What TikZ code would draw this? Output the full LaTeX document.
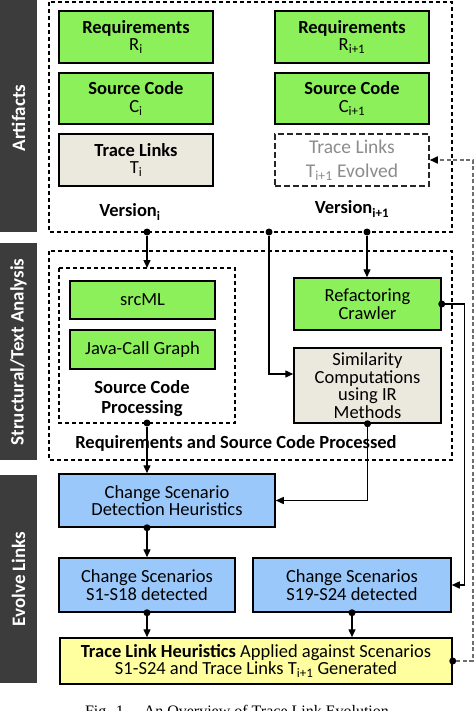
\documentclass[tikz,border=0pt]{standalone}
\usepackage{fontspec}
\setmainfont{Carlito}
\newfontfamily\capfont{Liberation Serif}
\usetikzlibrary{arrows.meta}
\definecolor{grn}{RGB}{140,240,90}
\definecolor{blu}{RGB}{155,200,250}
\definecolor{yel}{RGB}{255,255,160}
\definecolor{bge}{RGB}{235,232,222}
\definecolor{band}{RGB}{60,60,60}
\definecolor{fbk}{RGB}{110,110,110}
\begin{document}
\begin{tikzpicture}[x=1pt,y=-1pt,
  box/.style={draw=black, line width=1.5pt, inner sep=0pt, align=center,
    font=\fontsize{18.5}{17.5}\selectfont},
  gbox/.style={box, fill=grn},
  bbox/.style={box, fill=blu},
  ebox/.style={box, fill=bge},
  grp/.style={draw=black, line width=1.4pt, dash pattern=on 4pt off 3pt},
  bandtext/.style={text=white, rotate=90, font=\fontsize{19}{20}\selectfont\bfseries},
  lbl/.style={font=\fontsize{18.5}{20}\selectfont\bfseries, align=center},
  arr/.style={line width=1.4pt, -{Triangle[length=8pt,width=7pt]}},
  dot/.style={circle, fill=black, inner sep=0pt, minimum size=7pt},
]
\useasboundingbox (0,0) rectangle (474,711);
\clip (0,0) rectangle (474,711);
\fill[white] (0,0) rectangle (474,711);

% side bands
\fill[band] (0,0) rectangle (37,232);
\fill[band] (0,243) rectangle (37,460);
\fill[band] (0,475) rectangle (37,683);
\node[bandtext] (bA) at (18.5,118) {Artifacts};
\node[bandtext] (bS) at (18.5,352) {Structural/Text Analysis};
\node[bandtext] (bE) at (18.5,579) {Evolve Links};

% group boxes
\draw[grp] (49,2) rectangle (452,232);
\draw[grp] (49,251) rectangle (452,460);
\draw[grp] (59,268) rectangle (235,423);

% artifacts
\node[gbox, minimum width=154pt, minimum height=52pt] (ri) at (136,37)
  {\textbf{Requirements}\\R\textsubscript{i}};
\node[gbox, minimum width=154pt, minimum height=51pt] (ci) at (136,98.5)
  {\textbf{Source Code}\\C\textsubscript{i}};
\node[ebox, minimum width=154pt, minimum height=52pt] (ti) at (136,160)
  {\textbf{Trace Links}\\T\textsubscript{i}};
\node[gbox, minimum width=154pt, minimum height=52pt] (ri1) at (352,37)
  {\textbf{Requirements}\\R\textsubscript{i+1}};
\node[gbox, minimum width=154pt, minimum height=51pt] (ci1) at (352,98.5)
  {\textbf{Source Code}\\C\textsubscript{i+1}};
\node[box, draw=black!85, dash pattern=on 6pt off 3pt, text=black!45,
  minimum width=154pt, minimum height=52pt,
  font=\fontsize{19.5}{24}\selectfont] (ti1) at (352,160)
  {Trace Links\\T\textsubscript{i+1} Evolved};
\node[lbl, anchor=base] (v1) at (130,217) {Version\textsubscript{i}};
\node[lbl, anchor=base] (v2) at (352,214) {Version\textsubscript{i+1}};

% dots on artifacts border
\node[dot] (d1) at (147,232) {};
\node[dot] (d2) at (269,232) {};
\node[dot] (d3) at (367,232) {};

% structural analysis
\node[gbox, minimum width=145pt, minimum height=38pt] (src) at (142.5,300) {srcML};
\node[gbox, minimum width=145pt, minimum height=39pt] (jcg) at (142.5,349.5) {Java-Call Graph};
\node[lbl] (scp) at (142,399) {Source Code\\Processing};
\node[gbox, minimum width=147pt, minimum height=52pt] (rc) at (367.5,304)
  {Refactoring\\Crawler};
\node[ebox, minimum width=147pt, minimum height=75pt] (sim) at (367.5,385.5)
  {Similarity\\Computations\\using IR\\Methods};
\node[lbl] (rscp) at (236,443) {Requirements and Source Code Processed};
\coordinate (scpt) at (147,268);
\coordinate (scpb) at (147,423);
\coordinate (e2) at (269,374);

% evolve links
\node[bbox, minimum width=216pt, minimum height=53pt] (cs) at (167,500.5)
  {Change Scenario\\Detection Heuristics};
\node[bbox, minimum width=176pt, minimum height=54pt] (s1) at (147,585)
  {Change Scenarios\\S1-S18 detected};
\node[bbox, minimum width=198pt, minimum height=54pt] (s2) at (352,585)
  {Change Scenarios\\S19-S24 detected};
\node[box, fill=yel, minimum width=392pt, minimum height=46pt] (th) at (256,661)
  {\textbf{Trace Link Heuristics} Applied against Scenarios\\S1-S24 and Trace Links T\textsubscript{i+1} Generated};

% connectors
\draw[arr] (d1) -- (scpt);
\draw[arr] (d2) -- (e2) -- (e2 -| sim.west);
\draw[arr] (d3) -- (d3 |- rc.north);
\node[dot] (rcd) at (rc.east) {};
\draw[arr] (rcd) -- ++(23,0) |- (s2.east);
\node[dot] (scpd) at (scpb) {};
\draw[arr] (scpd) -- (scpd |- cs.north);
\node[dot] (simd) at (sim.south) {};
\draw[arr] (simd) |- (cs.east);
\node[dot] (csd) at (cs.south -| s1.north) {};
\draw[arr] (csd) -- (s1.north);
\node[dot] (s1d) at (s1.south) {};
\draw[arr] (s1d) -- (s1d |- th.north);
\node[dot] (s2d) at (s2.south) {};
\draw[arr] (s2d) -- (s2d |- th.north);
\node[dot] (thd) at (th.east) {};
\draw[line width=1.6pt, draw=fbk, dash pattern=on 4pt off 2.5pt,
  -{Triangle[length=8pt,width=7pt,fill=black,color=black]}]
  (thd) -- ++(20,0) |- (ti1.east);

% caption (cut by frame as in the reference)
\node[anchor=base, font=\capfont\fontsize{16}{18}\selectfont] (cap) at (237,716)
  {Fig. 1.\quad An Overview of Trace Link Evolution};
\end{tikzpicture}
\end{document}
